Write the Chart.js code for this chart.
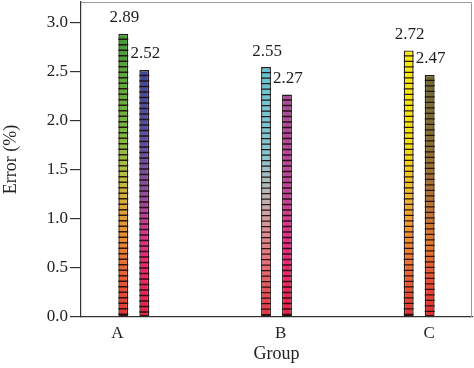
<!DOCTYPE html>
<html><head><meta charset="utf-8">
<script src="https://cdn.jsdelivr.net/npm/chart.js@4/dist/chart.umd.min.js"></script>
<style>html,body{margin:0;padding:0;background:#fff}#wrap{width:474px;height:368px;position:relative}</style>
</head><body><div id="wrap"><canvas id="c"></canvas></div>
<script>
const categories = ['A', 'B', 'C'];
const series1 = [2.89, 2.55, 2.72];
const series2 = [2.52, 2.27, 2.47];
const yTicks = [0, 0.5, 1.0, 1.5, 2.0, 2.5, 3.0];
const xTitle = 'Group';
const yTitle = 'Error (%)';

// gradient colour stops per bar (top -> bottom)
const palette1 = [
  [[0,'#3d9c34'],[0.35,'#79b83a'],[0.5,'#b3c03c'],[0.6,'#dcaa32'],[0.75,'#ea842e'],[0.88,'#e8542f'],[1,'#e03234']],
  [[0,'#5ec6d6'],[0.35,'#84c8d0'],[0.5,'#b8b8b8'],[0.62,'#d89a9a'],[0.78,'#e8707a'],[1,'#e6303a']],
  [[0,'#f2ee0a'],[0.35,'#f0e010'],[0.55,'#f0b82c'],[0.75,'#f08030'],[0.9,'#ea5030'],[1,'#e23034']]
];
const palette2 = [
  [[0,'#3a4aa0'],[0.3,'#5a52a6'],[0.5,'#8e4e9e'],[0.65,'#d83490'],[0.8,'#f0246e'],[1,'#e82244']],
  [[0,'#a54a9a'],[0.45,'#c4429a'],[0.65,'#e82a88'],[0.85,'#ee2462'],[1,'#e62242']],
  [[0,'#6c6a32'],[0.3,'#8a7032'],[0.5,'#b07032'],[0.7,'#e07a30'],[0.86,'#e84c30'],[1,'#e02c32']]
];

const FONT = "'Liberation Serif', 'Times New Roman', serif";

function gradientFor(pal) {
  return (ctx) => {
    const chart = ctx.chart;
    const ys = chart.scales && chart.scales.y;
    const s = pal[ctx.dataIndex] || pal[0];
    if (!chart.chartArea || !ys || ctx.type !== 'data') return s[0][1];
    const v = ctx.raw && typeof ctx.raw === 'object' ? ctx.raw.y : ctx.raw;
    const top = ys.getPixelForValue(v);
    const base = ys.getPixelForValue(0);
    const g = chart.ctx.createLinearGradient(0, top, 0, base);
    s.forEach(([o, c]) => g.addColorStop(o, c));
    return g;
  };
}

const cellPlugin = {
  id: 'cells',
  afterDatasetsDraw(chart) {
    const c = chart.ctx;
    chart.data.datasets.forEach((ds, di) => {
      const meta = chart.getDatasetMeta(di);
      meta.data.forEach((bar) => {
        const p = bar.getProps(['x', 'y', 'base', 'width'], true);
        const l = p.x - p.width / 2, r = p.x + p.width / 2;
        c.save();
        c.strokeStyle = 'rgba(35,15,15,0.95)';
        c.lineWidth = 1.4;
        c.beginPath();
        for (let yy = p.y + 5.5; yy < p.base - 1; yy += 5.5) {
          c.moveTo(l, yy); c.lineTo(r, yy);
        }
        c.stroke();
        c.restore();
      });
    });
  }
};

const labelPlugin = {
  id: 'vlabels',
  afterDatasetsDraw(chart) {
    const c = chart.ctx;
    c.save();
    c.font = '17px ' + FONT;
    c.fillStyle = '#1e1e1e';
    c.textAlign = 'center';
    c.textBaseline = 'middle';
    chart.data.datasets.forEach((ds, di) => {
      const meta = chart.getDatasetMeta(di);
      meta.data.forEach((bar, i) => {
        const v = ds.data[i].y;
        c.fillText(v.toFixed(2), bar.x + 1, bar.y - 16);
      });
    });
    c.restore();
  }
};

const framePlugin = {
  id: 'frame',
  beforeDatasetsDraw(chart) {
    const a = chart.chartArea, c = chart.ctx;
    c.save();
    c.strokeStyle = '#9a9a9a';
    c.lineWidth = 1;
    c.beginPath();
    c.moveTo(a.left, a.top + 0.5); c.lineTo(a.right - 0.5, a.top + 0.5); c.lineTo(a.right - 0.5, a.bottom);
    c.stroke();
    c.restore();
  }
};

const xShift = [-0.115, 0.03, 0.07];

new Chart(document.getElementById('c'), {
  type: 'bar',
  data: {
    datasets: [
      { data: series1.map((v, i) => ({ x: i, y: v })), backgroundColor: gradientFor(palette1),
        borderColor: '#2a1818', borderWidth: 1.4, borderSkipped: false,
        barPercentage: 0.47, categoryPercentage: 0.294 },
      { data: series2.map((v, i) => ({ x: i, y: v })), backgroundColor: gradientFor(palette2),
        borderColor: '#2a1818', borderWidth: 1.4, borderSkipped: false,
        barPercentage: 0.47, categoryPercentage: 0.294 }
    ]
  },
  options: {
    responsive: true, maintainAspectRatio: false, animation: false,
    layout: { padding: { top: 2, right: 2, left: 0, bottom: 0 } },
    plugins: { legend: { display: false }, tooltip: { enabled: false } },
    scales: {
      x: {
        type: 'linear', min: -0.37, max: 2.37, offset: false,
        afterBuildTicks: (s) => { s.ticks = categories.map((_, i) => ({ value: i + xShift[i] })); },
        afterFit: (s) => { s.height = 51; s.paddingLeft = 0; s.paddingRight = 0; },
        grid: { display: false, drawTicks: false, offset: false },
        border: { display: true, color: '#333', width: 1.2 },
        ticks: { callback: (v, i) => categories[i], color: '#222', padding: 6, maxRotation: 0, autoSkip: false,
                 font: { family: FONT, size: 17 } },
        title: { display: true, text: xTitle, color: '#222', font: { family: FONT, size: 18 }, padding: { top: 0, bottom: 3 } }
      },
      y: {
        min: 0, max: 3.214,
        afterBuildTicks: (s) => { s.ticks = yTicks.map(v => ({ value: v })); },
        afterFit: (s) => { s.width = 81; s.paddingTop = 0; s.paddingBottom = 0; },
        grid: { display: true, drawOnChartArea: false, drawTicks: true, tickLength: 11, color: '#333', lineWidth: 1.2 },
        border: { display: true, color: '#333', width: 1.2 },
        ticks: { callback: (v) => Number(v).toFixed(1), color: '#222', padding: 2, font: { family: FONT, size: 17 } },
        title: { display: true, text: yTitle, color: '#222', font: { family: FONT, size: 18 }, padding: { top: 0, bottom: 0 } }
      }
    }
  },
  plugins: [framePlugin, cellPlugin, labelPlugin]
});
</script></body></html>
